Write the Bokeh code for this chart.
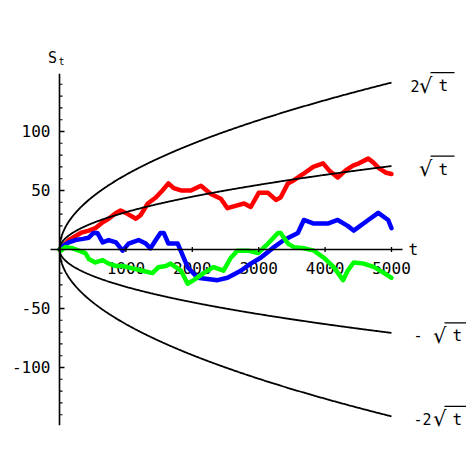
import numpy as np
from bokeh.plotting import figure
from bokeh.embed import file_html
from bokeh.resources import INLINE
from bokeh.core.properties import value

# ---- data ----
red_t = [0,140,320,440,540,650,740,850,920,1030,1150,1220,1330,1450,1550,1640,1720,1830,1980,2130,
         2280,2430,2530,2650,2780,2880,3000,3140,3260,3330,3440,3510,3670,3820,3970,4060,4190,4310,4420,4510,
         4650,4720,4810,4920,5000]
red_s = [0,8,14,16,18,23,26,31,33,30,26,29,39,44,50,56,52,50,50,54,
         47,43,35,37,39,36,48,48,42,44,56,58,64,70,73,67,61,67,71,73,
         77,74,69,65,64]
blue_t = [0,50,140,240,350,440,510,570,650,740,850,950,1040,1190,1300,1370,1450,1520,1570,1640,
          1780,1930,2080,2230,2380,2530,2730,2880,3030,3230,3380,3590,3680,3830,4040,4190,4340,4430,4650,4800,
          4950,5000]
blue_s = [0,3,6,8,9,10,14,14,6,8,6,-1,5,8,5,1,8,14,14,5,
          5,-15,-24,-25,-26,-24,-18,-12,-7,2,8,14,25,22,22,25,20,16,25,31,
          25,18]
green_t = [0,20,90,200,290,390,440,540,650,740,850,950,1100,1250,1400,1490,1600,1670,1830,1930,
           2020,2170,2320,2470,2580,2680,2840,2990,3140,3290,3330,3440,3530,3680,3830,3980,4130,4270,4340,4430,
           4580,4740,4890,5000]
green_s = [0,-1,2,1,-1,-3,-8,-11,-9,-12,-14,-14,-16,-18,-20,-15,-14,-12,-18,-29,
           -26,-20,-15,-18,-7,-1,-1,-3,5,14,14,5,2,1,-1,-7,-15,-26,-18,-11,
           -12,-15,-20,-24]

t_max = 5000
curve_coefs = [2, 1, -1, -2]
curve_prefix = ["2", "", "- ", "-2"]

x_major = [1000, 2000, 3000, 4000, 5000]
x_major_labels = ["1000", "2000", "3000", "4000", "5000"]
y_major = [-100, -50, 50, 100]
y_major_labels = ["-100", "-50", "50", "100"]
y_minor = [v for v in range(-140, 141, 10) if v % 50 != 0]

x_axis_span = (-135, 5166)
y_axis_span = (-149, 149)

# ---- figure ----
W = H = 466
X0 = -888.6
X1 = X0 + W / 0.0664
Y1 = 211.0
Y0 = Y1 - H / 1.18
XPP = (X1 - X0) / W   # data units per pixel
YPP = (Y1 - Y0) / H

p = figure(width=W, height=H, x_range=(X0, X1), y_range=(Y0, Y1),
           output_backend="svg", toolbar_location=None, min_border=0,
           x_axis_location=None, y_axis_location=None)
p.grid.visible = False
p.outline_line_color = None
p.background_fill_color = "white"
p.border_fill_color = "white"

font = value("DejaVu Sans Mono")
# tick labels (drawn first: the walks pass over them)
p.text(x=[0]*len(y_major), y=y_major, text=y_major_labels, x_offset=-9, text_align="right",
       text_baseline="middle", text_font=font, text_font_size="16px", text_color="black")
p.text(x=x_major, y=[0]*len(x_major), text=x_major_labels, y_offset=19, text_align="center",
       text_baseline="middle", text_font=font, text_font_size="16px", text_color="black")

# random walks
for tt, ss, col in [(red_t, red_s, "#ff0000"), (blue_t, blue_s, "#0000ff"), (green_t, green_s, "#00ff00")]:
    p.line(tt, ss, line_color=col, line_width=4.5, line_join="round", line_cap="round")

# envelopes
tc = np.linspace(0, t_max, 400)
for c in curve_coefs:
    p.line(tc, c * np.sqrt(tc), line_color="black", line_width=1.8)

# axes lines
p.segment(x0=[x_axis_span[0], 0], y0=[0, y_axis_span[0]], x1=[x_axis_span[1], 0], y1=[0, y_axis_span[1]],
          line_color="black", line_width=1.6)
# y ticks
p.segment(x0=[0]*len(y_major), y0=y_major, x1=[5*XPP]*len(y_major), y1=y_major, line_color="black", line_width=1.3)
p.segment(x0=[0]*len(y_minor), y0=y_minor, x1=[3*XPP]*len(y_minor), y1=y_minor, line_color="black", line_width=1.1)
# x ticks
p.segment(x0=x_major, y0=[-2.5*YPP]*len(x_major), x1=x_major, y1=[2.5*YPP]*len(x_major), line_color="black", line_width=1.3)

# axis names
p.text(x=[x_axis_span[1]], y=[0], text=["t"], x_offset=6, text_align="left", text_baseline="middle",
       text_font=font, text_font_size="16px", text_color="black")
p.text(x=[0], y=[y_axis_span[1]], text=["S"], x_offset=-7, y_offset=-16, text_align="center",
       text_baseline="middle", text_font=font, text_font_size="15px", text_color="black")
p.text(x=[0], y=[y_axis_span[1]], text=["t"], x_offset=2, y_offset=-12, text_align="center",
       text_baseline="middle", text_font=font, text_font_size="10px", text_color="black")

# curve labels
for c, pre in zip(curve_coefs, curve_prefix):
    ye = c * np.sqrt(t_max)
    anchor = 41 if c > 0 else 55
    p.text(x=[t_max], y=[ye], text=["\u221a"], x_offset=anchor, y_offset=3, text_align="right",
           text_baseline="middle", text_font=value("DejaVu Sans"), text_font_size="21px", text_color="black")
    if pre:
        p.text(x=[t_max], y=[ye], text=[pre], x_offset=anchor - 13 + (0 if c > 0 else -2), y_offset=3,
               text_align="right", text_baseline="middle", text_font=font, text_font_size="15px",
               text_color="black")
    p.text(x=[t_max], y=[ye], text=["t"], x_offset=anchor + 6, y_offset=3, text_align="left",
           text_baseline="middle", text_font=font, text_font_size="16px", text_color="black")
    p.segment(x0=[t_max + (anchor - 2) * XPP], y0=[ye + 10 * YPP], x1=[t_max + (anchor + 22) * XPP],
              y1=[ye + 10 * YPP], line_color="black", line_width=1.2)

open("out.html", "w").write(file_html(p, INLINE))
